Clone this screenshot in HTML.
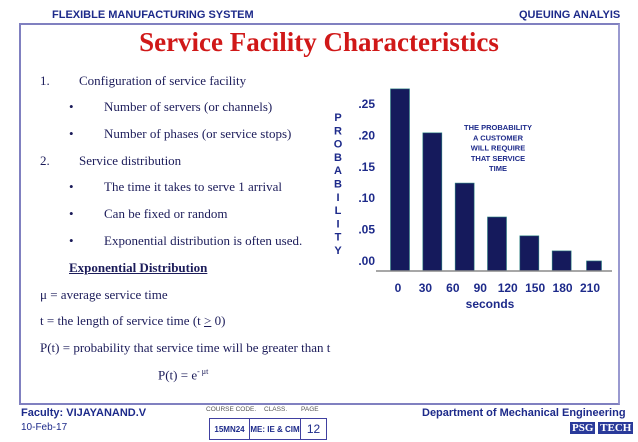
<!DOCTYPE html>
<html><head><meta charset="utf-8"><style>
body{margin:0;width:638px;height:442px;background:#fff;position:relative;overflow:hidden;font-family:"Liberation Sans",sans-serif}
.a{position:absolute;white-space:nowrap}
.hd{font-weight:bold;font-size:11px;color:#1d2a8a}
.t{font-family:"Liberation Serif",serif;font-size:13px;color:#1c1c5a}
</style></head><body>
<div class="a hd" style="left:52px;top:9px">FLEXIBLE MANUFACTURING SYSTEM</div>
<div class="a hd" style="left:519px;top:9px">QUEUING ANALYIS</div>
<div class="a" style="left:19px;top:23px;width:597px;height:378px;border:2px solid #8080c0;border-right-color:#9a9ad0"></div>
<div class="a" style="left:0;width:638px;text-align:center;top:27px;font-family:'Liberation Serif',serif;font-weight:bold;font-size:27px;color:#d01818">Service Facility Characteristics</div>

<div class="a t" style="left:40px;top:73px">1.</div>
<div class="a t" style="left:79px;top:73px">Configuration of service facility</div>
<div class="a t" style="left:69px;top:99px">•</div>
<div class="a t" style="left:104px;top:99px">Number of servers (or channels)</div>
<div class="a t" style="left:69px;top:126px">•</div>
<div class="a t" style="left:104px;top:126px">Number of phases (or service stops)</div>
<div class="a t" style="left:40px;top:153px">2.</div>
<div class="a t" style="left:79px;top:153px">Service distribution</div>
<div class="a t" style="left:69px;top:179px">•</div>
<div class="a t" style="left:104px;top:179px">The time it takes to serve 1 arrival</div>
<div class="a t" style="left:69px;top:206px">•</div>
<div class="a t" style="left:104px;top:206px">Can be fixed or random</div>
<div class="a t" style="left:69px;top:233px">•</div>
<div class="a t" style="left:104px;top:233px">Exponential distribution is often used.</div>
<div class="a t" style="left:69px;top:260px;font-weight:bold;text-decoration:underline">Exponential Distribution</div>
<div class="a t" style="left:40px;top:287px">μ = average service time</div>
<div class="a t" style="left:40px;top:313px">t = the length of service time (t <u>&gt;</u> 0)</div>
<div class="a t" style="left:40px;top:340px">P(t) = probability that service time will be greater than t</div>
<div class="a t" style="left:158px;top:367px">P(t) = e<sup style="font-size:8px">- μt</sup></div>

<svg class="a" style="left:0;top:0" width="638" height="442"></svg>

<div class="a" style="left:21px;top:407px;font-weight:bold;font-size:11px;color:#1d2a8a">Faculty: VIJAYANAND.V</div>
<div class="a" style="left:21px;top:422px;font-size:10px;color:#1d2a8a">10-Feb-17</div>
<div class="a" style="left:206px;top:406px;font-size:6.5px;color:#555">COURSE CODE.</div>
<div class="a" style="left:264px;top:406px;font-size:6.5px;color:#555">CLASS.</div>
<div class="a" style="left:301px;top:406px;font-size:6.5px;color:#555">PAGE</div>
<div class="a" style="left:209px;top:418px;width:116px;height:20px;border:1px solid #4040a0;display:flex;font-size:8px;font-weight:bold;color:#1d2a8a">
<div style="width:39px;border-right:1px solid #4040a0;display:flex;align-items:center;justify-content:center">15MN24</div>
<div style="width:50px;border-right:1px solid #4040a0;display:flex;align-items:center;justify-content:center">ME: IE &amp; CIM</div>
<div style="flex:1;display:flex;align-items:center;justify-content:center;font-size:12px;font-weight:normal">12</div></div>
<div class="a" style="left:422px;top:407px;font-weight:bold;font-size:11px;color:#1d2a8a">Department of Mechanical Engineering</div>
<div class="a" style="left:570px;top:422px;font-family:'Liberation Serif',serif;font-weight:bold;font-size:11px;color:#fff"><span style="background:#2a3a9a;padding:0 2px">PSG</span> <span style="background:#2a3a9a;padding:0 2px">TECH</span></div>

<script>
const categories=["0","30","60","90","120","150","180","210"];
const values=[0.29,0.22,0.14,0.086,0.056,0.032,0.016];
const yTicks=[0,0.05,0.10,0.15,0.20,0.25];
const yTickLabels=[".00",".05",".10",".15",".20",".25"];
const svg=document.querySelector('svg');
const NS='http://www.w3.org/2000/svg';
const base=271, ppu=628;
const y=v=>base-v*ppu;
const barX=i=>400+i*(594-400)/(values.length-1);
const labX=i=>398+i*(590-398)/(categories.length-1);
function mk(t,a,txt){const e=document.createElementNS(NS,t);for(const k in a)e.setAttribute(k,a[k]);if(txt!=null)e.textContent=txt;svg.appendChild(e);return e;}
values.forEach((v,i)=>{const w=i==6?15:19;const r=mk('rect',{x:barX(i)-w/2,y:y(v),width:w,height:v*ppu,fill:'#151a5c',stroke:'#2a8080','stroke-width':0.6});

});
const ax=mk('line',{x1:376,x2:612,y1:base,y2:base,stroke:'#8a8a8a','stroke-width':1.5});


yTicks.forEach((v,i)=>{const t=mk('text',{x:375,y:y(v)-6,'text-anchor':'end','font-size':12,'font-weight':'bold',fill:'#1d2a8a','font-family':'Liberation Sans'},yTickLabels[i]);

});
categories.forEach((c,i)=>{const t=mk('text',{x:labX(i),y:292,'text-anchor':'middle','font-size':12,'font-weight':'bold',fill:'#1d2a8a','font-family':'Liberation Sans'},c);

});
const xt=mk('text',{x:490,y:308,'text-anchor':'middle','font-size':12,'font-weight':'bold',fill:'#1d2a8a','font-family':'Liberation Sans'},'seconds');


"PROBABILITY".split('').forEach((ch,i)=>{const t=mk('text',{x:338,y:121+i*13.3,'text-anchor':'middle','font-size':11,'font-weight':'bold',fill:'#1d2a8a','font-family':'Liberation Sans'},ch);

});
["THE PROBABILITY","A CUSTOMER","WILL REQUIRE","THAT SERVICE","TIME"].forEach((l,i)=>{const t=mk('text',{x:498,y:130+i*10.3,'text-anchor':'middle','font-size':7.5,'font-weight':'bold',fill:'#1d2a8a','font-family':'Liberation Sans'},l);

});
</script>
</body></html>
